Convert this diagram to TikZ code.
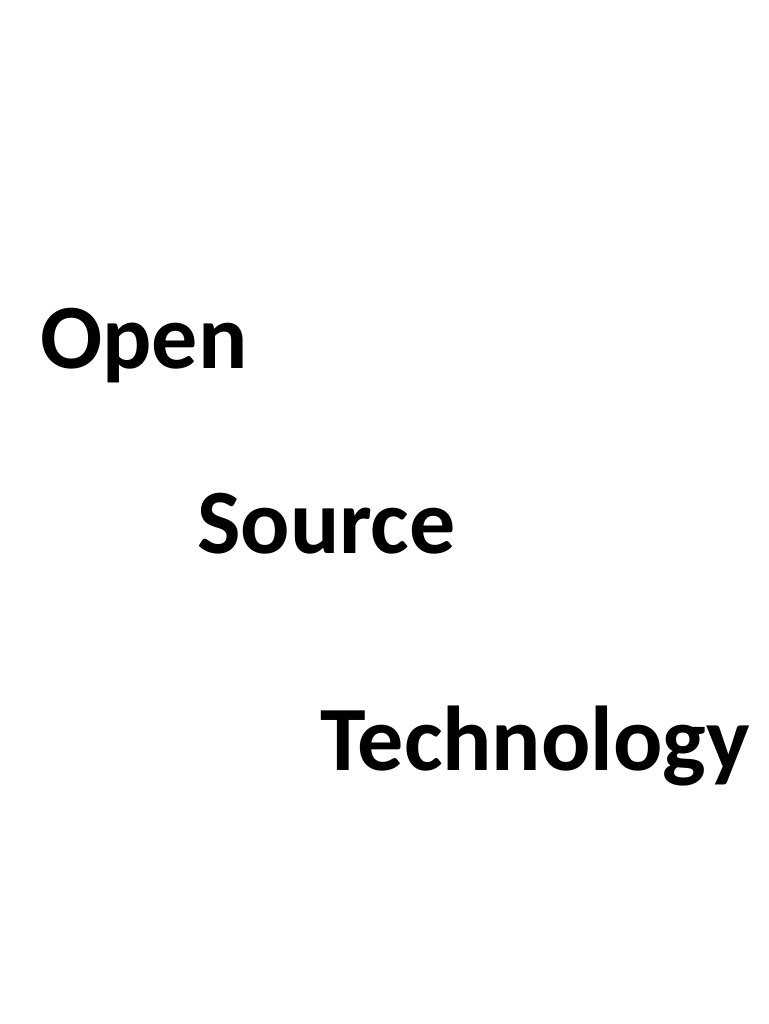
\documentclass[tikz,border=0pt]{standalone}
\usepackage{fontspec}
\setmainfont{Carlito}
\begin{document}
\begin{tikzpicture}[x=1pt,y=1pt,word/.style={anchor=base west,inner sep=0pt,font=\bfseries\fontsize{92}{100}\selectfont}]
\useasboundingbox[fill=white] (0,0) rectangle (768,-1024);
\node[word] (open) at (40,-368) {Open};
\node[word] (source) at (197,-553) {Source};
\node[word] (tech) at (320,-770) {Technology};
\end{tikzpicture}
\end{document}
